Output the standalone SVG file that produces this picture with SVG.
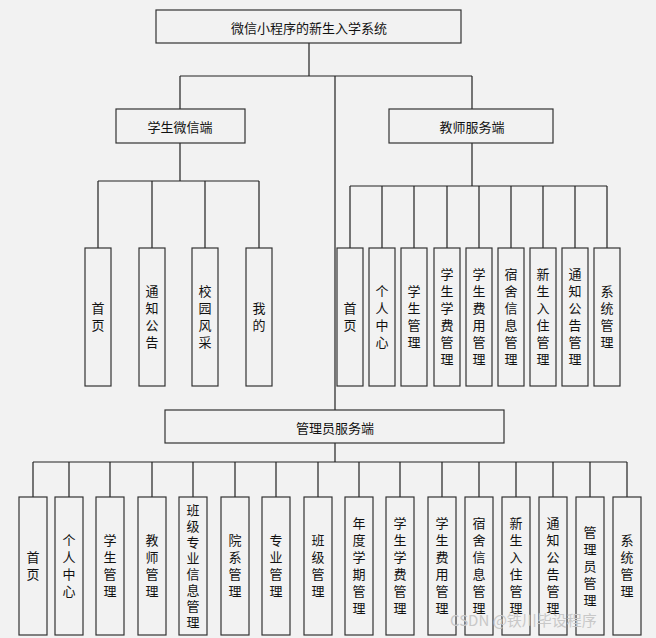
<svg xmlns="http://www.w3.org/2000/svg" width="656" height="638" viewBox="0 0 656 638">
<style>
rect{fill:#f2f2f2;stroke:#333;stroke-width:1.2}
text{font-family:"Noto Sans CJK SC","Liberation Sans",sans-serif;font-size:13px;fill:#111}
.h{text-anchor:middle;dominant-baseline:central}
.v{writing-mode:vertical-rl;text-anchor:middle;letter-spacing:4px}
#connectors path{fill:none;stroke:#222;stroke-width:1.2}
</style>
<rect x="0" y="0" width="656" height="638" style="stroke:none;fill:#f2f2f2"/>
<g id="connectors">
<path d="M309 43V76M180 76H472M180 76V109M472 76V109M335 76V410"/>
<path d="M180 143V181M98 181H259M98 181V248M152 181V248M205 181V248M259 181V248"/>
<path d="M472 143V186M350 186H607M350 186V248M382 186V248M414 186V248M447 186V248M479 186V248M511 186V248M543 186V248M575 186V248M607 186V248"/>
<path d="M335 443V462M33 462H627M33 462V497M69 462V497M110 462V497M152 462V497M193 462V497M235 462V497M276 462V497M318 462V497M359 462V497M400 462V497M442 462V497M479 462V497M516 462V497M553 462V497M590 462V497M627 462V497"/>
</g>
<g id="root"><rect x="156" y="10" width="305" height="33"/><text class="h" x="309" y="27">微信小程序的新生入学系统</text></g>
<g id="student"><rect x="116" y="109" width="129" height="34"/><text class="h" x="180" y="126">学生微信端</text></g>
<g id="teacher"><rect x="389" y="109" width="164" height="34"/><text class="h" x="472" y="126">教师服务端</text></g>
<g id="admin"><rect x="165" y="410" width="339" height="33"/><text class="h" x="335" y="427">管理员服务端</text></g>
<g id="s1"><rect x="85" y="248" width="26" height="138"/><text class="v" x="98" y="319">首页</text></g>
<g id="s2"><rect x="139" y="248" width="26" height="138"/><text class="v" x="152" y="319">通知公告</text></g>
<g id="s3"><rect x="192" y="248" width="26" height="138"/><text class="v" x="205" y="319">校园风采</text></g>
<g id="s4"><rect x="246" y="248" width="26" height="138"/><text class="v" x="259" y="319">我的</text></g>
<g id="t1"><rect x="337" y="248" width="26" height="138"/><text class="v" x="350" y="319">首页</text></g>
<g id="t2"><rect x="369" y="248" width="26" height="138"/><text class="v" x="382" y="319">个人中心</text></g>
<g id="t3"><rect x="401" y="248" width="26" height="138"/><text class="v" x="414" y="319">学生管理</text></g>
<g id="t4"><rect x="434" y="248" width="26" height="138"/><text class="v" x="447" y="319">学生学费管理</text></g>
<g id="t5"><rect x="466" y="248" width="26" height="138"/><text class="v" x="479" y="319">学生费用管理</text></g>
<g id="t6"><rect x="498" y="248" width="26" height="138"/><text class="v" x="511" y="319">宿舍信息管理</text></g>
<g id="t7"><rect x="530" y="248" width="26" height="138"/><text class="v" x="543" y="319">新生入住管理</text></g>
<g id="t8"><rect x="562" y="248" width="26" height="138"/><text class="v" x="575" y="319">通知公告管理</text></g>
<g id="t9"><rect x="594" y="248" width="26" height="138"/><text class="v" x="607" y="319">系统管理</text></g>
<g id="a1"><rect x="19" y="497" width="28" height="138"/><text class="v" x="33" y="568">首页</text></g>
<g id="a2"><rect x="55" y="497" width="28" height="138"/><text class="v" x="69" y="568">个人中心</text></g>
<g id="a3"><rect x="96" y="497" width="28" height="138"/><text class="v" x="110" y="568">学生管理</text></g>
<g id="a4"><rect x="138" y="497" width="28" height="138"/><text class="v" x="152" y="568">教师管理</text></g>
<g id="a5"><rect x="179" y="497" width="28" height="138"/><text class="v" x="193" y="568" style="letter-spacing:3px">班级专业信息管理</text></g>
<g id="a6"><rect x="221" y="497" width="28" height="138"/><text class="v" x="235" y="568">院系管理</text></g>
<g id="a7"><rect x="262" y="497" width="28" height="138"/><text class="v" x="276" y="568">专业管理</text></g>
<g id="a8"><rect x="304" y="497" width="28" height="138"/><text class="v" x="318" y="568">班级管理</text></g>
<g id="a9"><rect x="345" y="497" width="28" height="138"/><text class="v" x="359" y="568">年度学期管理</text></g>
<g id="a10"><rect x="386" y="497" width="28" height="138"/><text class="v" x="400" y="568">学生学费管理</text></g>
<g id="a11"><rect x="428" y="497" width="28" height="138"/><text class="v" x="442" y="568">学生费用管理</text></g>
<g id="a12"><rect x="465" y="497" width="28" height="138"/><text class="v" x="479" y="568">宿舍信息管理</text></g>
<g id="a13"><rect x="502" y="497" width="28" height="138"/><text class="v" x="516" y="568">新生入住管理</text></g>
<g id="a14"><rect x="539" y="497" width="28" height="138"/><text class="v" x="553" y="568">通知公告管理</text></g>
<g id="a15"><rect x="576" y="497" width="28" height="138"/><text class="v" x="590" y="568">管理员管理</text></g>
<g id="a16"><rect x="613" y="497" width="28" height="138"/><text class="v" x="627" y="568">系统管理</text></g>
<text x="450" y="626" style="font-size:15px;fill:#c8c8c8">CSDN @铁川毕设程序</text>
</svg>
